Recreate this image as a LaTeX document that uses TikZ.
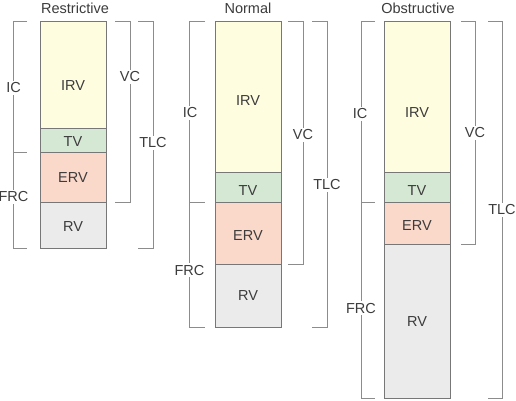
\documentclass[tikz,border=0pt]{standalone}
\usepackage{fontspec}
\setmainfont{Liberation Sans}
\definecolor{irvc}{HTML}{FFFDE0}
\definecolor{tvc}{HTML}{D5E8D4}
\definecolor{ervc}{HTML}{FAD9CB}
\definecolor{rvc}{HTML}{EBEBEB}
\definecolor{edgec}{HTML}{777777}
\definecolor{brc}{HTML}{8C8C8C}
\definecolor{txtc}{HTML}{3C3C3C}
\tikzset{
  seg/.style={draw=edgec, line width=0.9pt},
  brk/.style={draw=brc, line width=0.9pt},
  lbl/.style={font=\fontsize{14.5}{16}\selectfont, text=txtc, inner sep=1pt},
  blbl/.style={lbl, fill=white, inner sep=2pt},
  ttl/.style={lbl}
}
\begin{document}
\begin{tikzpicture}[x=1pt,y=-1pt]
\useasboundingbox[fill=white] (0,0) rectangle (516,400);
% ---------- Restrictive ----------
\path[seg, fill=irvc] (40,21) rectangle (106.5,128);
\path[seg, fill=tvc] (40,128) rectangle (106.5,152.5);
\path[seg, fill=ervc] (40,152.5) rectangle (106.5,202.5);
\path[seg, fill=rvc] (40,202.5) rectangle (106.5,248);
\node[lbl] (r-irv) at (73,86) {IRV};
\node[lbl] (r-tv) at (73,142) {TV};
\node[lbl] (r-erv) at (73,178) {ERV};
\node[lbl] (r-rv) at (73,227) {RV};
\node[ttl] (r-title) at (75,8) {Restrictive};
\draw[brk] (27,21) -- (13.5,21) -- (13.5,248) -- (27,248);
\draw[brk] (13.5,152.5) -- (27,152.5);
\draw[brk] (115,21) -- (130,21) -- (130,202.5) -- (115,202.5);
\draw[brk] (138,21) -- (153,21) -- (153,248) -- (138,248);
\node[blbl] (r-ic) at (13.5,88) {IC};
\node[blbl] (r-frc) at (13.5,197) {FRC};
\node[blbl] (r-vc) at (130,77) {VC};
\node[blbl] (r-tlc) at (153,143) {TLC};
% ---------- Normal ----------
\path[seg, fill=irvc] (215,21) rectangle (281.5,172);
\path[seg, fill=tvc] (215,172) rectangle (281.5,202);
\path[seg, fill=ervc] (215,202) rectangle (281.5,264);
\path[seg, fill=rvc] (215,264) rectangle (281.5,327);
\node[lbl] (n-irv) at (248,101) {IRV};
\node[lbl] (n-tv) at (248,191) {TV};
\node[lbl] (n-erv) at (248,236) {ERV};
\node[lbl] (n-rv) at (248,296) {RV};
\node[ttl] (n-title) at (248,8) {Normal};
\draw[brk] (205,21) -- (189.5,21) -- (189.5,327) -- (205,327);
\draw[brk] (189.5,202) -- (205,202);
\draw[brk] (288,21) -- (303,21) -- (303,264) -- (288,264);
\draw[brk] (312,21) -- (327,21) -- (327,327) -- (312,327);
\node[blbl] (n-ic) at (190,113) {IC};
\node[blbl] (n-frc) at (189.5,270) {FRC};
\node[blbl] (n-vc) at (303,135) {VC};
\node[blbl] (n-tlc) at (327,185) {TLC};
% ---------- Obstructive ----------
\path[seg, fill=irvc] (384,21) rectangle (450,172);
\path[seg, fill=tvc] (384,172) rectangle (450,202);
\path[seg, fill=ervc] (384,202) rectangle (450,244);
\path[seg, fill=rvc] (384,244) rectangle (450,398);
\node[lbl] (o-irv) at (417,113) {IRV};
\node[lbl] (o-tv) at (417,191) {TV};
\node[lbl] (o-erv) at (417,226) {ERV};
\node[lbl] (o-rv) at (417,322) {RV};
\node[ttl] (o-title) at (418,8) {Obstructive};
\draw[brk] (375,21) -- (361,21) -- (361,398) -- (375,398);
\draw[brk] (361,202) -- (375,202);
\draw[brk] (461,21) -- (475,21) -- (475,244) -- (461,244);
\draw[brk] (488,21) -- (502,21) -- (502,398) -- (488,398);
\node[blbl] (o-ic) at (360,114) {IC};
\node[blbl] (o-frc) at (361,308) {FRC};
\node[blbl] (o-vc) at (475,133) {VC};
\node[blbl] (o-tlc) at (502,210) {TLC};
\end{tikzpicture}
\end{document}
